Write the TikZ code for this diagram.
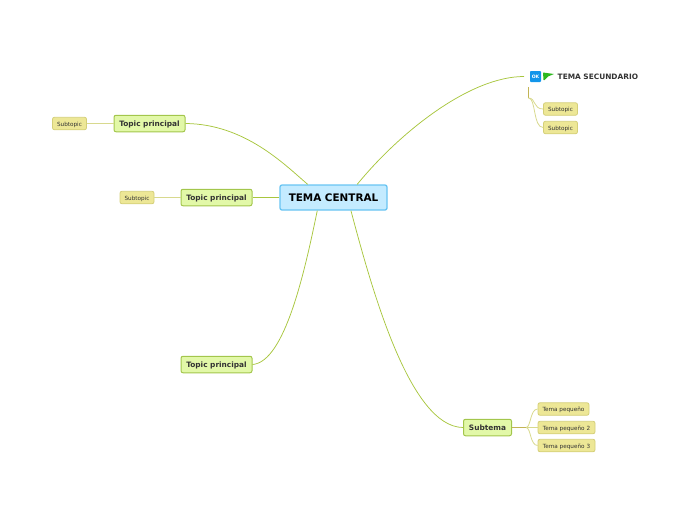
\documentclass[tikz,border=0pt]{standalone}
\usepackage{fontspec}
\setmainfont{DejaVu Sans}
\usetikzlibrary{calc}
\definecolor{linkgreen}{HTML}{A8C63E}
\definecolor{linkyellow}{HTML}{D8D98E}
\definecolor{linkgold}{HTML}{C2B455}
\definecolor{centralfill}{HTML}{C4EBFF}
\definecolor{centraldraw}{HTML}{68C4F2}
\definecolor{topicfill}{HTML}{E2F8A8}
\definecolor{topicdraw}{HTML}{A3C64C}
\definecolor{subfill}{HTML}{EDE796}
\definecolor{subdraw}{HTML}{D4CF78}
\definecolor{inktext}{HTML}{333333}
\definecolor{okblue}{HTML}{1295EA}
\definecolor{flaggreen}{HTML}{2DB81E}
\tikzset{
  x=1pt,y=-1pt,
  base/.style={rounded corners=2pt,inner sep=0pt,anchor=center,align=center},
  central/.style={base,draw=centraldraw,fill=centralfill,line width=1.3pt,minimum width=107pt,minimum height=25pt,text height=8.4pt,text depth=0pt,font=\bfseries\fontsize{10.4}{12}\selectfont,text=black},
  topic/.style={base,draw=topicdraw,fill=topicfill,line width=1pt,minimum width=71pt,minimum height=16.5pt,text height=6.4pt,text depth=0pt,font=\bfseries\fontsize{7.4}{9}\selectfont,text=inktext},
  small/.style={base,draw=subdraw,fill=subfill,line width=.8pt,minimum height=12.5pt,text height=5.1pt,text depth=0pt,font=\fontsize{5.7}{7}\selectfont,text=inktext},
  plain/.style={inner sep=0pt,anchor=west,font=\bfseries\fontsize{7.4}{9}\selectfont,text=inktext},
  main/.style={draw=linkgreen,line width=.75pt},
  twig/.style={draw=linkyellow,line width=.8pt},
  stem/.style={draw=linkgold,line width=1.2pt},
}
\begin{document}
\begin{tikzpicture}
\useasboundingbox (0,0) rectangle (697,520);
% nodes
\node[central] (c) at (333.5,197.5) {TEMA CENTRAL};
\node[topic] (t1) at (149.5,123.5) {Topic principal};
\node[topic] (t2) at (216.5,197.5) {Topic principal};
\node[topic] (t3) at (216.5,364.5) {Topic principal};
\node[topic,minimum width=48pt] (t4) at (487.5,427.5) {Subtema};
\node[small,minimum width=34pt] (s1) at (69.5,123.5) {Subtopic};
\node[small,minimum width=34pt] (s2) at (137,197.5) {Subtopic};
\node[small,minimum width=34pt] (s3) at (560.5,109) {Subtopic};
\node[small,minimum width=34pt] (s4) at (560.5,127.5) {Subtopic};
\node[small,minimum width=51pt] (p1) at (563.5,409) {Tema pequeño};
\node[small,minimum width=57pt] (p2) at (566.5,427.5) {Tema pequeño 2};
\node[small,minimum width=57pt] (p3) at (566.5,445.5) {Tema pequeño 3};
\node[plain] (sec) at (557.5,76.5) {TEMA SECUNDARIO};
\node[rounded corners=.8pt,fill=okblue,minimum width=11pt,minimum height=11pt,inner sep=0pt,text=white,font=\bfseries\fontsize{4.6}{5}\selectfont] (ok) at (535.5,76.5) {OK};
\coordinate (secin) at (524,76.5);
\coordinate (fork) at (528.5,87);
\coordinate (forkb) at (528.5,98);
\coordinate (pfork) at (526,427.5);
% flag
\fill[flaggreen] (543,72.5) -- (554,74) -- (548,76.5) -- (544.5,80) -- (543.5,80) -- cycle;
% main links
\draw[main] (c.153) .. controls (285,165) and (245,124) .. (t1.east);
\draw[main] (c.west) -- (t2.east);
\draw[main] (c.219) .. controls (305,270) and (285,362) .. (t3.east);
\draw[main] (c.-37) .. controls (372,290) and (410,427) .. (t4.west);
\draw[main] (c.29) .. controls (400,132) and (470,76.5) .. (secin);
% small links
\draw[twig] (t1.west) -- (s1.east);
\draw[twig] (t2.west) -- (s2.east);
\draw[stem] (fork) -- (forkb);
\draw[twig] (forkb) .. controls (536,98) and (533,109) .. (s3.west);
\draw[twig] (forkb) .. controls (536,98) and (533,127.5) .. (s4.west);
\draw[stem] (t4.east) -- (pfork);
\draw[twig] (pfork) .. controls (531,427.5) and (530,409) .. (p1.west);
\draw[twig] (pfork) -- (p2.west);
\draw[twig] (pfork) .. controls (531,427.5) and (530,445.5) .. (p3.west);
\end{tikzpicture}
\end{document}
